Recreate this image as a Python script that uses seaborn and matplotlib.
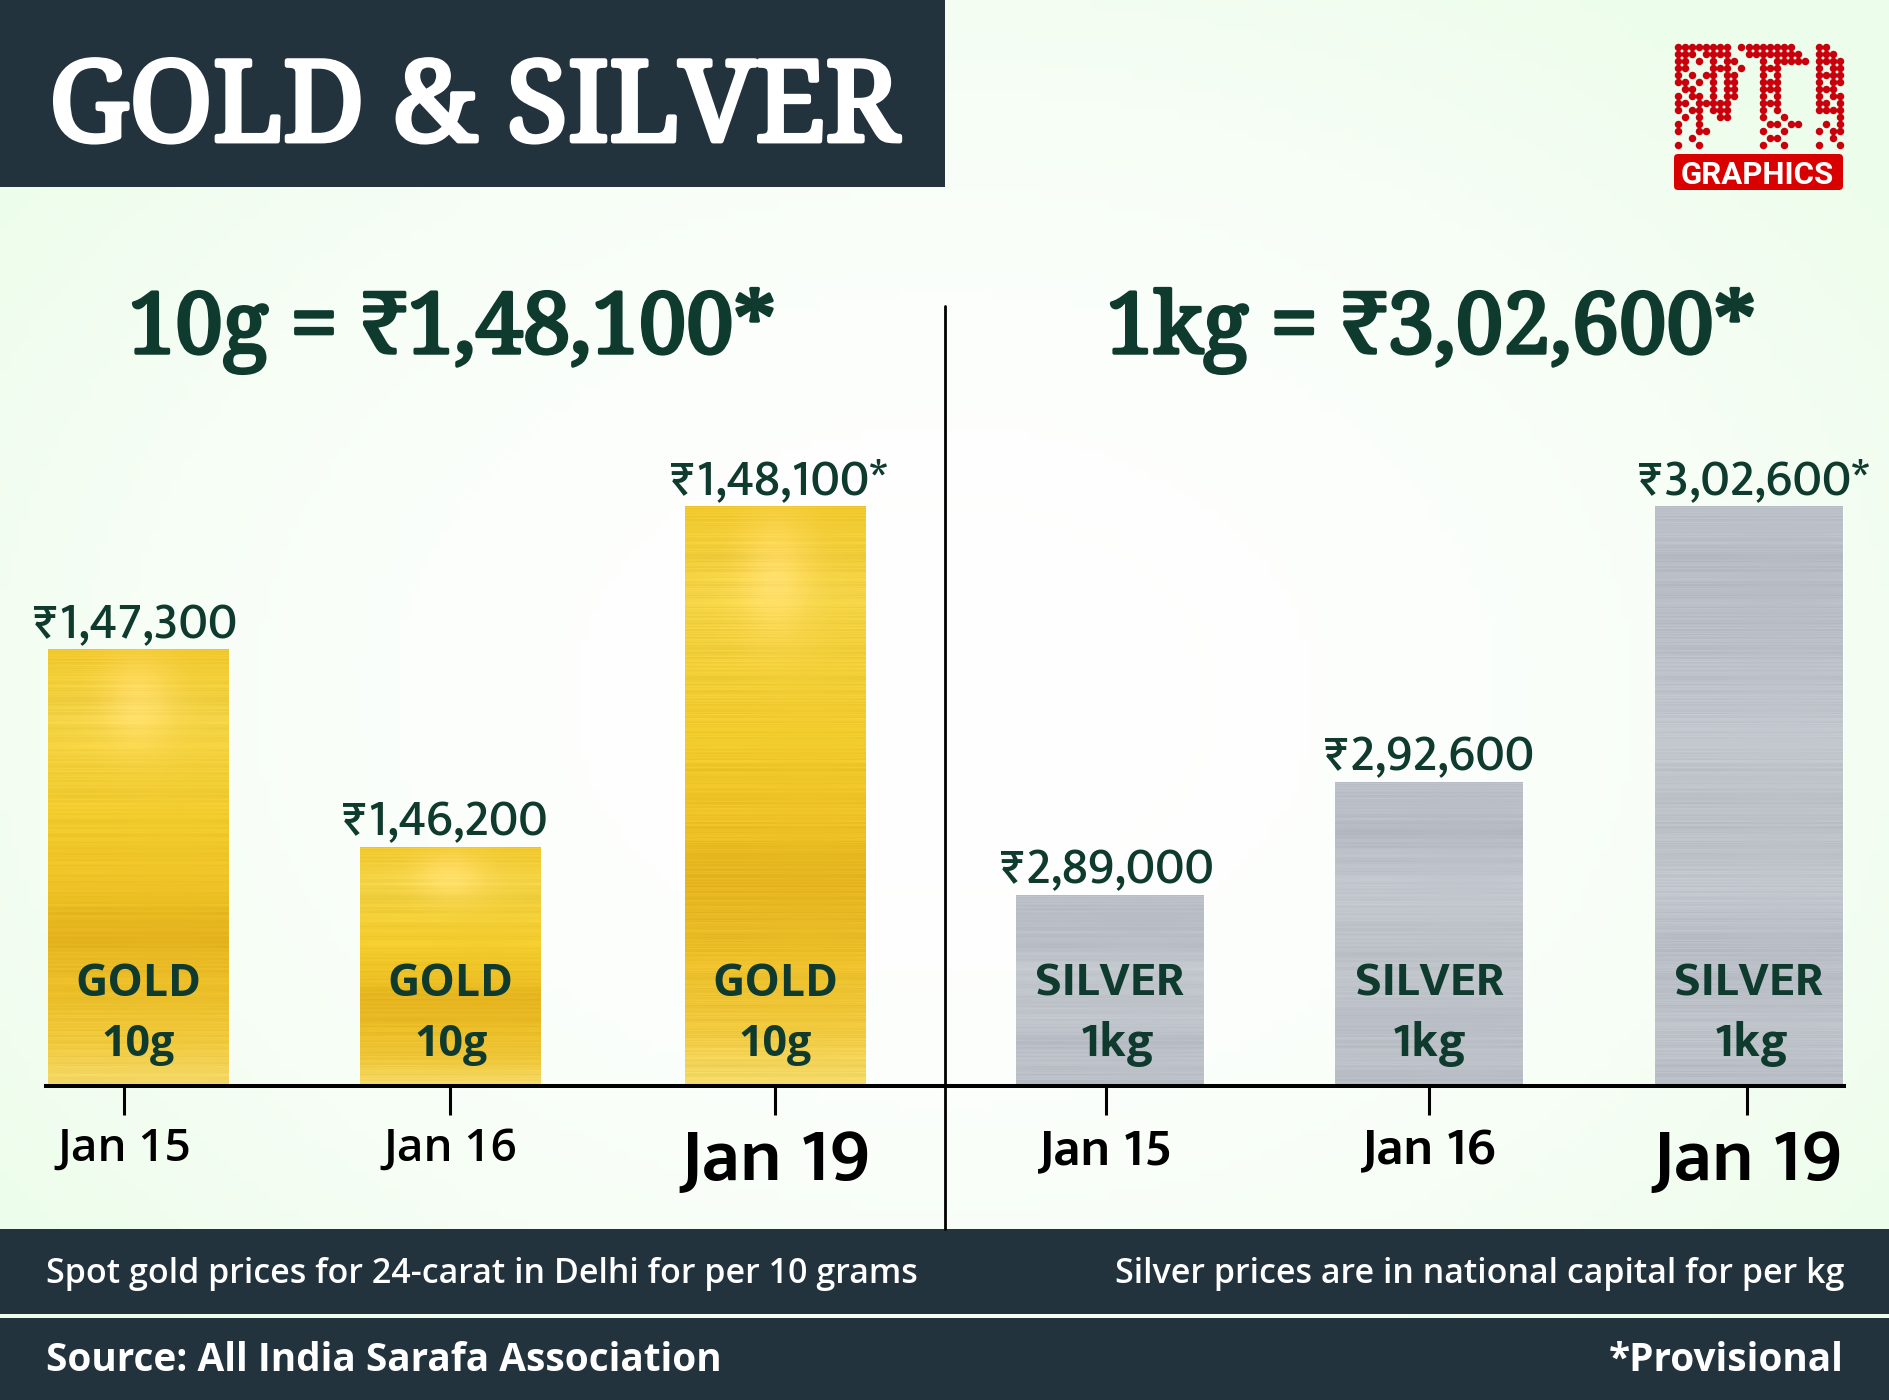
import numpy as np
import pandas as pd
import matplotlib
matplotlib.use("Agg")
import matplotlib.pyplot as plt
import matplotlib.patches as mpatches
import matplotlib.patheffects as pe
from matplotlib.image import BboxImage
from matplotlib.transforms import Bbox, TransformedBbox
import seaborn as sns

dates = ["Jan 15", "Jan 16", "Jan 19"]
gold_prices = [147300, 146200, 148100]
silver_prices = [289000, 292600, 302600]
gold_labels = ["₹1,47,300", "₹1,46,200", "₹1,48,100*"]
silver_labels = ["₹2,89,000", "₹2,92,600", "₹3,02,600*"]

# the silver bars are not drawn to a straight scale in the original
silver_scale_prices = [282950, 289000, 292600, 302600]
silver_scale_heights = [0, 158, 252, 481]

logo_rows = [
    "########.########...##..",
    "###.####..########..###.",
    "##.#.#.##...#.#####.####",
    "##...###.#..###.....#.##",
    "#.#.##.##...#.#.....####",
    "##.#.#.##...###.....#.##",
    ".##..#.##...###.....###.",
    "#.##.#.##...#.#.....#.##",
    "##.#####....###.....##.#",
    "#.##.###....#.#.....####",
    ".#.#..##....#..#.......#",
    "#..#.........##.##...#.#",
    "#..##.......#..#....#.##",
    "..#..........##.......#.",
    "#..#........#..#....#..#",
]

W, H = 1890, 1400
DARK = "#22333d"
GREEN = "#0f3a2e"
OPEN = ["Open Sans", "DejaVu Sans"]
MUKTA = ["Mukta", "DejaVu Sans"]
SERIF = ["Noto Serif", "DejaVu Serif"]

sns.set_theme(style="white", rc={"axes.facecolor": "none", "figure.facecolor": "white"})
plt.rcParams["font.family"] = OPEN


def metal_texture(stops, colors, glow, h, w=200):
    # brushed metal: vertical colour bands plus thin horizontal streaks
    pos = np.linspace(0, 1, h)
    cols = np.array([matplotlib.colors.to_rgb(c) for c in colors])
    img = np.stack([np.interp(pos, stops, cols[:, i]) for i in range(3)], axis=1)
    img = np.repeat(img[:, None, :], w, axis=1)
    row = np.arange(h)
    fine = np.modf(np.abs(np.sin(row * 12.9898) * 43758.5453))[0] - 0.5
    wave = np.sin(row * 0.21) + 0.6 * np.sin(row * 0.083 + 1.0)
    xs = np.linspace(0, 1, w)
    across = 0.75 + 0.25 * np.sin(xs * 7.0)
    streak = (0.05 * fine + 0.005 * wave)[:, None] * across[None, :]
    img = img + streak[:, :, None]
    yy, xx = np.mgrid[0:1:h * 1j, 0:1:w * 1j]
    blob = np.exp(-((xx - 0.5) ** 2 / 0.04 + (yy - 0.12) ** 2 / 0.012))
    img = img + glow * blob[:, :, None] * np.array([1, 1, 3])
    return np.clip(img, 0, 1)


gold_colors = ["#f1c92e", "#f3d345", "#f2cb2c", "#eec226", "#e5b41f", "#edc02a", "#f0c83c", "#f6dc6c"]
silver_colors = ["#bcc1c9", "#b7bcc4", "#c3c7ce", "#bcc1c8", "#c2c6cd", "#b9bec6", "#bec2c9", "#babec6"]
tex_stops = [0, 0.15, 0.4, 0.55, 0.65, 0.78, 0.9, 1]


def draw_panel(ax, prices, width, xlim, ticks):
    df = pd.DataFrame({"date": dates, "price": prices})
    sns.barplot(data=df, x="date", y="price", color="#cccccc", saturation=1, width=width,
                errorbar=None, ax=ax)
    ax.set_xlim(*xlim)
    ax.set_xlabel("")
    ax.set_ylabel("")
    ax.set_yticks([])
    for side in ["left", "top", "right"]:
        ax.spines[side].set_visible(False)
    ax.spines["bottom"].set_linewidth(2.9)
    ax.spines["bottom"].set_color("black")
    ax.set_xticks(ticks, dates)
    ax.tick_params(axis="x", bottom=True, length=21, width=2.2, color="black", pad=8,
                   labelcolor="black")


def thick(size_pt, color):
    return [pe.withStroke(linewidth=size_pt, foreground=color)]


fig = plt.figure(figsize=(W / 100, H / 100), dpi=100)

# page, header and footer in pixel coordinates
bg = fig.add_axes([0, 0, 1, 1], zorder=0)
bg.set_xlim(0, W)
bg.set_ylim(H, 0)
bg.axis("off")
yy, xx = np.mgrid[0:1:140j, 0:1:189j]
dist = np.clip(np.hypot((xx - 0.5) / 0.62, (yy - 0.5) / 0.62), 0, 1)
page = np.ones((140, 189, 3))
edge = np.array(matplotlib.colors.to_rgb("#edfdeb"))
page = page + (edge - page) * (dist ** 2)[:, :, None]
bg.imshow(page, extent=(0, W, H, 0), aspect="auto", zorder=0)

bg.add_patch(mpatches.Rectangle((0, 0), 945, 187, color=DARK, lw=0, zorder=1))
bg.add_patch(mpatches.Rectangle((0, 1229), W, 85, color=DARK, lw=0, zorder=1))
bg.add_patch(mpatches.Rectangle((0, 1318), W, 82, color=DARK, lw=0, zorder=1))
bg.plot([945, 945], [306, 1229], color="black", lw=2, zorder=1)

bg.text(49, 141, "GOLD & SILVER", color="white", family=SERIF, fontsize=81, va="baseline",
        ha="left", zorder=2, path_effects=thick(3.5, "white"))
bg.text(128, 353, "10g = ₹1,48,100*", color=GREEN, family=SERIF, fontsize=61, va="baseline",
        ha="left", zorder=2, path_effects=thick(2.5, GREEN))
bg.text(1106, 353, "1kg = ₹3,02,600*", color=GREEN, family=SERIF, fontsize=61, va="baseline",
        ha="left", zorder=2, path_effects=thick(2.5, GREEN))

bg.text(46, 1283, "Spot gold prices for 24-carat in Delhi for per 10 grams", color="white",
        fontsize=24.5, weight="semibold", va="baseline", zorder=2)
bg.text(1844, 1283, "Silver prices are in national capital for per kg", color="white",
        fontsize=24.5, weight="semibold", va="baseline", ha="right", zorder=2)
bg.text(46, 1371, "Source: All India Sarafa Association", color="white",
        fontsize=27.9, weight="bold", va="baseline", zorder=2)
bg.text(1844, 1371, "*Provisional", color="white",
        fontsize=27.9, weight="bold", va="baseline", ha="right", zorder=2)

# PTI logo
dots_x, dots_y = [], []
for r, line in enumerate(logo_rows):
    for c, ch in enumerate(line):
        if ch == "#":
            dots_x.append(1678 + 7.05 * c)
            dots_y.append(47 + 7.0 * r)
bg.scatter(dots_x, dots_y, s=29, color="#c9000c", linewidths=0, zorder=2)
bg.add_patch(mpatches.FancyBboxPatch((1677, 157), 163, 30, boxstyle="round,pad=3,rounding_size=4",
                                     color="#d90000", lw=0, zorder=2))
bg.text(1757, 172, "GRAPHICS", color="white", family=["Roboto", "DejaVu Sans"], weight="bold",
        fontsize=22.5, ha="center", va="center_baseline", zorder=3)

# chart axes: baseline at y=1086, tallest bar top at y=506
ax_bottom = 1 - 1086 / H
ax_height = (1086 - 506) / H
ax_gold = fig.add_axes([46 / W, ax_bottom, 899 / W, ax_height], zorder=1)
ax_silver = fig.add_axes([945 / W, ax_bottom, 899 / W, ax_height], zorder=1)

draw_panel(ax_gold, gold_prices, 0.568, (-0.291, 2.534), [-0.046, 0.98, 2.0])
ax_gold.set_ylim(144871, 148100)

draw_panel(ax_silver, silver_prices, 0.588, (-0.515, 2.297), [-0.01, 1.0, 1.995])


def to_height(v):
    return np.interp(v, silver_scale_prices, silver_scale_heights)


def to_price(h):
    return np.interp(h, silver_scale_heights, silver_scale_prices)


ax_silver.set_yscale("function", functions=(to_height, to_price))
ax_silver.set_ylim(silver_scale_prices[0], silver_scale_prices[-1])
ax_silver.set_yticks([])
ax_silver.minorticks_off()

# date labels: Jan 19 is the big one
for ax, fam, size in [(ax_gold, OPEN, 33), (ax_silver, MUKTA, 39)]:
    labs = ax.get_xticklabels()
    for lab in labs[:2]:
        lab.set_fontfamily(fam)
        lab.set_fontsize(size)
        lab.set_fontweight("semibold")
    labs[2].set_fontfamily(MUKTA)
    labs[2].set_fontsize(55)
    labs[2].set_fontweight("semibold")

# the middle gold bar sits a little left of the even spacing
mid = ax_gold.containers[0][1]
mid.set_x(mid.get_x() - 0.019)

panels = [
    (ax_gold, gold_labels, "GOLD", "10g", gold_colors, 0.05, [-3, -5, 4], [0, 0, 0], OPEN, 32, 31),
    (ax_silver, silver_labels, "SILVER", "1kg", silver_colors, 0.0, [-2, 0, 5], [8, 0, 2], MUKTA, 36, 36),
]
for ax, labels, kind, unit, colors, glow, label_shift, unit_shift, fam, kind_size, unit_size in panels:
    bottom = ax.get_ylim()[0]
    container = ax.containers[0]
    for i, (bar, lab) in enumerate(zip(container, labels)):
        x0, w = bar.get_x(), bar.get_width()
        top = bar.get_height()
        px = ax.transData.transform([[x0, bottom], [x0 + w, top]])
        tex = metal_texture(tex_stops, colors, glow, int(abs(px[1, 1] - px[0, 1])))
        im = BboxImage(TransformedBbox(Bbox([[x0, bottom], [x0 + w, top]]), ax.transData),
                       interpolation="bilinear", zorder=2)
        im.set_data(tex)
        ax.add_artist(im)
        cx = x0 + w / 2
        ax.annotate(lab, xy=(cx, top), xytext=(label_shift[i], 12), textcoords="offset pixels",
                    ha="center", va="baseline", family=MUKTA, fontsize=36.5, weight="medium",
                    color=GREEN, zorder=4, annotation_clip=False)
        ax.annotate(kind, xy=(cx, bottom), xytext=(0, 90), textcoords="offset pixels",
                    ha="center", va="baseline", family=fam, fontsize=kind_size, weight="bold",
                    color=GREEN, zorder=4)
        ax.annotate(unit, xy=(cx, bottom), xytext=(unit_shift[i], 30), textcoords="offset pixels",
                    ha="center", va="baseline", family=fam, fontsize=unit_size, weight="bold",
                    color=GREEN, zorder=4)

fig.savefig("out.png", dpi=100)
